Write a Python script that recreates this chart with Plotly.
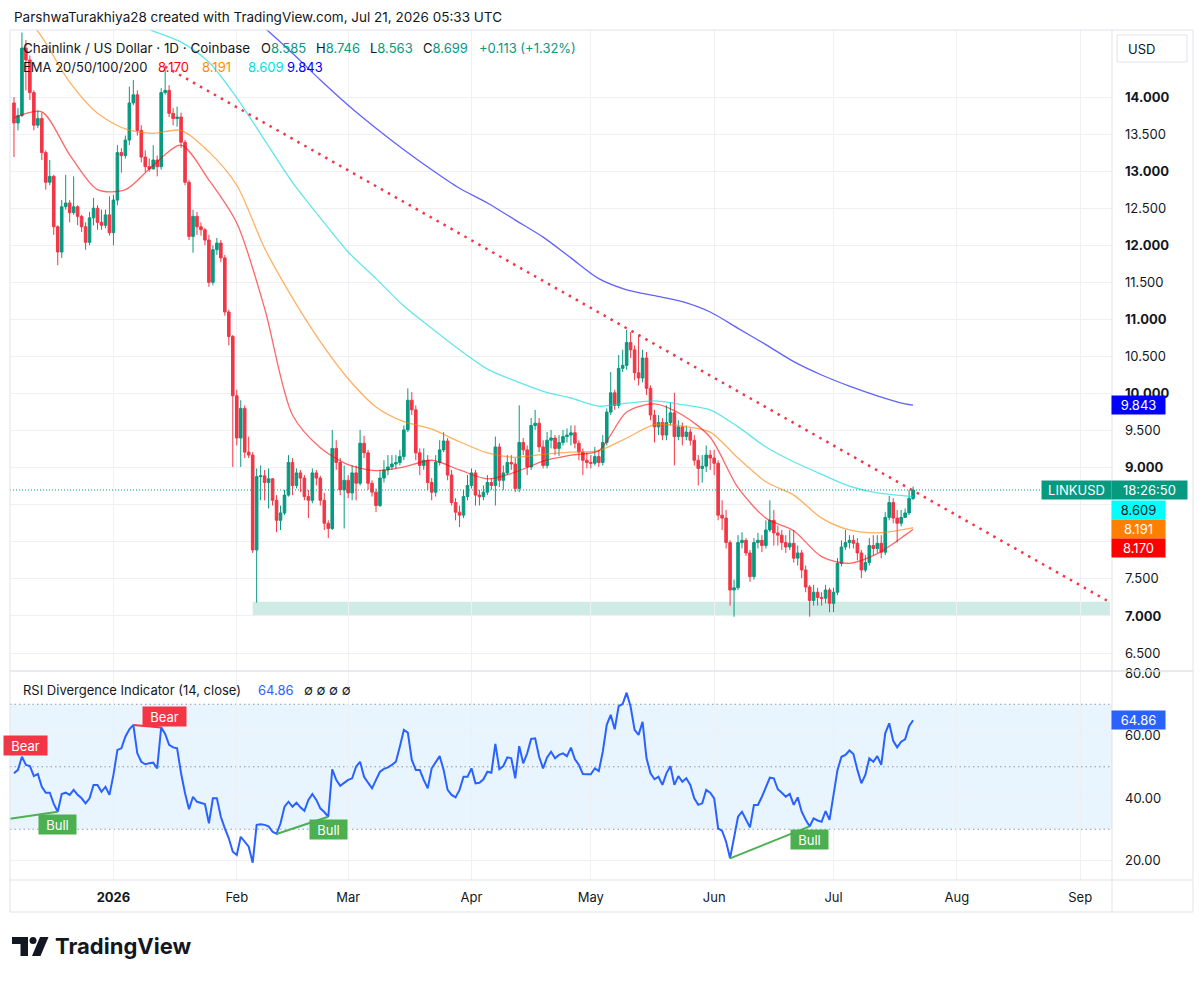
import pandas as pd
import plotly.graph_objects as go

W, H = 1204, 981
FONT = "Inter, 'Noto Sans', 'DejaVu Sans', sans-serif"
DARK = "#131722"
GREEN = "#089981"
RED = "#f23645"
GRID = "#eef0f3"
BORDER = "#e0e3eb"

# ---------------- data ----------------
start_date = "2025-12-07"
first_open = 13.92
close = [13.65, 13.75, 14.66, 14.50, 14.06, 13.62, 13.71, 13.25, 12.85, 12.93,
         12.25, 11.91, 12.52, 12.57, 12.44, 12.52, 12.39, 12.25, 12.04, 12.37,
         12.50, 12.31, 12.27, 12.41, 12.17, 12.61, 13.25, 13.21, 13.42, 13.92,
         14.03, 13.55, 13.19, 13.06, 13.03, 13.15, 13.06, 14.06, 14.09, 13.78,
         13.71, 13.73, 13.39, 12.85, 12.12, 12.39, 12.25, 12.21, 12.07, 11.50,
         11.94, 12.03, 11.83, 11.10, 10.77, 9.97, 9.40, 9.80, 9.21, 9.17,
         7.89, 8.88, 8.89, 8.80, 8.85, 8.56, 8.29, 8.39, 8.63, 9.07,
         8.76, 8.93, 8.86, 8.61, 8.56, 8.93, 8.86, 8.56, 8.25, 8.18,
         9.26, 9.07, 8.70, 8.83, 8.66, 8.93, 8.79, 9.33, 9.20, 8.79,
         8.67, 8.49, 8.86, 8.97, 9.01, 9.05, 9.07, 9.15, 9.51, 9.91,
         9.78, 9.20, 9.03, 9.10, 8.80, 8.67, 9.07, 9.24, 9.36, 8.90,
         8.53, 8.40, 8.36, 8.61, 8.76, 8.93, 8.63, 8.61, 8.67, 8.80,
         8.76, 9.28, 8.83, 8.93, 9.07, 9.05, 8.72, 9.34, 9.24, 9.01,
         9.57, 9.60, 9.28, 9.03, 9.37, 9.40, 9.26, 9.34, 9.42, 9.44,
         9.47, 9.33, 9.21, 9.10, 9.07, 9.06, 9.15, 9.07, 9.34, 9.75,
         10.01, 9.84, 10.34, 10.38, 10.69, 10.59, 10.28, 10.21, 10.48, 10.07,
         9.71, 9.55, 9.61, 9.44, 9.61, 9.74, 9.42, 9.55, 9.42, 9.48,
         9.37, 9.10, 8.99, 9.02, 9.17, 9.13, 9.06, 8.36, 8.32, 7.99,
         7.35, 7.38, 7.99, 8.02, 7.85, 7.53, 7.99, 8.02, 7.95, 8.16,
         8.29, 8.12, 8.09, 7.99, 7.93, 7.98, 7.78, 7.85, 7.62, 7.39,
         7.21, 7.32, 7.25, 7.24, 7.35, 7.17, 7.32, 7.71, 7.93, 7.99,
         8.02, 7.98, 7.85, 7.62, 7.72, 7.95, 7.91, 7.98, 7.86, 8.33,
         8.53, 8.32, 8.25, 8.33, 8.39, 8.585, 8.699]
high = [14.00, 13.85, 14.87, 14.77, 14.56, 14.09, 13.82, 13.79, 13.28, 13.15,
        12.95, 12.27, 12.61, 12.95, 12.61, 12.93, 12.54, 12.41, 12.31, 12.45,
        12.64, 12.54, 12.48, 12.48, 12.66, 12.68, 13.35, 13.31, 13.48, 14.14,
        14.23, 14.09, 13.62, 13.28, 13.17, 13.35, 13.21, 14.12, 14.41, 14.16,
        13.85, 13.87, 13.79, 13.42, 12.88, 12.48, 12.45, 12.31, 12.23, 12.14,
        12.00, 12.10, 12.07, 11.87, 11.13, 10.79, 10.05, 9.91, 9.84, 9.42,
        9.21, 8.99, 9.03, 8.97, 8.99, 8.86, 8.63, 8.49, 8.70, 9.17,
        9.13, 8.99, 8.97, 8.90, 8.70, 8.99, 8.97, 8.89, 8.66, 8.29,
        9.51, 9.37, 9.13, 9.03, 8.90, 9.03, 9.03, 9.51, 9.43, 9.24,
        8.83, 8.72, 8.97, 9.10, 9.17, 9.17, 9.17, 9.24, 9.57, 10.07,
        10.02, 9.84, 9.26, 9.26, 9.17, 8.86, 9.17, 9.37, 9.48, 9.40,
        8.97, 8.59, 8.49, 8.70, 8.90, 8.99, 8.97, 8.70, 8.76, 8.90,
        8.86, 9.42, 9.33, 9.03, 9.17, 9.17, 9.13, 9.84, 9.40, 9.30,
        9.67, 9.78, 9.67, 9.37, 9.48, 9.51, 9.44, 9.44, 9.51, 9.53,
        9.57, 9.57, 9.37, 9.26, 9.21, 9.17, 9.28, 9.24, 9.44, 9.80,
        10.29, 10.05, 10.52, 10.59, 10.86, 10.83, 10.65, 10.79, 10.59, 10.56,
        10.11, 9.78, 9.71, 9.67, 9.84, 9.88, 10.01, 9.64, 9.61, 9.57,
        9.53, 9.44, 9.17, 9.17, 9.30, 9.24, 9.24, 9.10, 8.56, 8.43,
        8.02, 7.49, 8.09, 8.13, 8.05, 7.89, 8.05, 8.12, 8.09, 8.29,
        8.56, 8.43, 8.22, 8.16, 8.09, 8.16, 8.16, 7.95, 7.89, 7.68,
        7.42, 7.42, 7.38, 7.32, 7.42, 7.38, 7.38, 7.78, 8.02, 8.16,
        8.09, 8.09, 8.05, 7.89, 7.82, 8.05, 8.09, 8.09, 8.09, 8.40,
        8.62, 8.59, 8.43, 8.43, 8.45, 8.70, 8.746]
low = [13.19, 13.55, 13.73, 14.09, 13.96, 13.55, 13.58, 13.15, 12.75, 12.81,
       12.14, 11.73, 11.83, 12.48, 12.31, 12.41, 12.27, 12.18, 11.94, 12.00,
       12.27, 12.21, 12.21, 12.23, 12.13, 12.00, 12.54, 12.98, 13.17, 13.35,
       13.89, 13.48, 13.12, 12.99, 12.99, 13.04, 12.93, 13.02, 14.03, 13.73,
       13.62, 13.60, 13.31, 12.81, 12.07, 11.90, 12.14, 12.13, 12.00, 11.44,
       11.46, 11.87, 11.77, 11.05, 10.65, 9.01, 9.30, 9.01, 9.13, 9.13,
       7.85, 7.18, 8.56, 8.56, 8.45, 8.49, 8.13, 8.16, 8.36, 8.61,
       8.63, 8.72, 8.67, 8.56, 8.32, 8.52, 8.76, 8.49, 8.16, 8.05,
       8.16, 8.97, 8.63, 8.18, 8.59, 8.56, 8.56, 8.76, 9.13, 8.70,
       8.61, 8.40, 8.47, 8.80, 8.90, 8.97, 8.99, 9.03, 9.10, 9.48,
       9.71, 9.10, 8.90, 8.97, 8.70, 8.56, 8.61, 9.03, 9.21, 8.83,
       8.49, 8.29, 8.20, 8.32, 8.56, 8.72, 8.49, 8.49, 8.56, 8.63,
       8.70, 8.49, 8.74, 8.70, 8.90, 8.97, 8.67, 8.67, 9.17, 8.90,
       8.97, 9.51, 9.21, 8.99, 8.99, 9.26, 9.17, 9.16, 9.30, 9.34,
       9.30, 9.26, 9.10, 8.90, 8.99, 8.99, 9.03, 9.01, 9.03, 9.30,
       9.71, 9.78, 9.80, 10.29, 10.32, 10.48, 10.18, 10.11, 10.15, 9.98,
       9.64, 9.34, 9.44, 9.37, 9.37, 9.57, 9.03, 9.37, 9.30, 9.37,
       9.30, 9.03, 8.76, 8.80, 8.94, 8.97, 8.90, 8.29, 8.16, 7.91,
       7.14, 6.99, 7.35, 7.91, 7.81, 7.46, 7.49, 7.91, 7.86, 7.91,
       8.13, 7.95, 7.95, 7.89, 7.85, 7.89, 7.72, 7.68, 7.51, 7.32,
       6.99, 7.14, 7.14, 7.14, 7.17, 7.05, 7.05, 7.28, 7.67, 7.89,
       7.91, 7.91, 7.75, 7.51, 7.59, 7.68, 7.82, 7.85, 7.78, 7.82,
       8.29, 8.25, 7.99, 8.21, 8.32, 8.36, 8.563]
rsi = [47.9, 49.0, 53.2, 50.6, 50.2, 47.0, 47.7, 43.6, 41.7, 41.7,
       38.1, 35.6, 41.3, 41.7, 41.0, 42.6, 41.0, 39.9, 38.3, 39.9,
       44.2, 44.2, 42.0, 43.6, 41.0, 47.4, 55.4, 55.9, 59.6, 62.0,
       63.4, 54.3, 51.6, 50.8, 51.1, 51.3, 49.5, 62.6, 60.5, 57.0,
       56.2, 55.9, 47.9, 41.5, 36.4, 40.4, 38.8, 38.5, 38.1, 31.9,
       39.9, 39.9, 34.0, 30.3, 27.1, 22.8, 21.8, 27.6, 26.0, 24.4,
       19.3, 31.4, 31.6, 31.4, 30.9, 29.2, 28.5, 31.9, 37.2, 38.8,
       37.2, 38.5, 37.0, 35.9, 39.4, 41.3, 39.4, 36.7, 35.5, 34.0,
       49.2, 45.8, 43.9, 44.9, 45.8, 46.3, 50.0, 51.6, 46.8, 44.9,
       43.1, 45.8, 48.4, 49.3, 49.8, 50.6, 51.6, 56.5, 61.8, 60.9,
       52.2, 49.0, 49.0, 45.8, 43.1, 49.5, 51.3, 53.4, 49.0, 42.6,
       41.0, 40.2, 42.6, 46.8,
       46.8, 49.5, 44.7, 44.9, 46.0, 48.4, 48.1, 57.3, 49.2, 50.2,
       53.0, 52.7, 46.3, 56.6, 51.1, 54.3, 58.9, 59.1, 53.2, 49.5,
       53.0, 54.8, 52.7, 53.8, 54.3, 53.4, 56.1, 52.4, 50.6, 47.7,
       47.6, 47.6, 49.5, 48.6, 54.8, 63.4, 66.6, 62.0, 69.4, 70.1,
       73.7, 69.2, 61.8, 60.2, 64.4, 52.7, 47.9, 46.0, 46.8, 44.2,
       47.9, 50.2, 44.2, 47.0, 45.2, 46.3, 44.2, 39.9, 37.8, 38.3,
       42.6, 41.7, 39.9, 30.3, 29.5, 26.0, 20.7, 27.1, 34.0, 35.6,
       33.2, 30.6, 37.8, 37.8, 40.4, 43.6, 46.5, 46.3, 42.8, 41.7,
       40.4, 41.3, 37.8, 40.2, 35.6, 33.0, 30.9, 33.5, 32.8, 32.4,
       35.8, 33.0, 40.4, 49.0, 53.2, 53.8, 55.2, 54.1, 49.0, 44.7,
       47.4, 52.7, 51.6, 53.4, 50.6, 60.7, 63.9, 58.3, 56.2, 58.0,
       58.8, 63.0, 64.86]

ema_dates = ["2025-12-07", "2025-12-14", "2025-12-21", "2025-12-28",
             "2026-01-04", "2026-01-11", "2026-01-18", "2026-01-25",
             "2026-02-01", "2026-02-08", "2026-02-15", "2026-02-22",
             "2026-03-01", "2026-03-08", "2026-03-15", "2026-03-22", "2026-03-29",
             "2026-04-05", "2026-04-12", "2026-04-19", "2026-04-26",
             "2026-05-03", "2026-05-10", "2026-05-17", "2026-05-24", "2026-05-31",
             "2026-06-07", "2026-06-14", "2026-06-21", "2026-06-28",
             "2026-07-05", "2026-07-12", "2026-07-19", "2026-07-21"]
ema20 = [13.72, 13.80, 13.22, 12.75, 12.75, 13.08, 13.35, 12.88, 12.30, 11.15,
         9.71, 9.27, 9.04, 8.96, 9.01, 9.10, 8.97, 8.85, 8.94, 9.09,
         9.17, 9.23, 9.75, 9.86, 9.71, 9.41, 8.73, 8.32, 8.15, 7.80,
         7.71, 7.84, 8.09, 8.170]
ema50 = [15.31, 14.81, 14.20, 13.78, 13.57, 13.51, 13.55, 13.26, 12.81, 11.96,
         11.29, 10.70, 10.20, 9.82, 9.62, 9.52, 9.35, 9.20, 9.14, 9.18,
         9.21, 9.23, 9.40, 9.58, 9.56, 9.48, 9.13, 8.81, 8.63, 8.32,
         8.16, 8.12, 8.17, 8.191]
ema100 = [15.65, 15.50, 15.35, 15.19, 15.04, 14.89, 14.74, 14.47, 13.99, 13.42,
          12.85, 12.37, 11.91, 11.55, 11.18, 10.88, 10.59, 10.33, 10.17, 10.03,
          9.94, 9.83, 9.87, 9.90, 9.85, 9.78, 9.55, 9.28, 9.08, 8.91,
          8.75, 8.66, 8.62, 8.609]
ema200 = [16.31, 16.20, 16.09, 15.98, 15.85, 15.71, 15.58, 15.42, 15.20, 14.93,
          14.59, 14.23, 13.89, 13.58, 13.29, 13.02, 12.77, 12.57, 12.34, 12.11,
          11.83, 11.55, 11.40, 11.32, 11.24, 11.10, 10.88, 10.66, 10.43, 10.25,
          10.10, 9.97, 9.86, 9.843]

trend_dates = ["2026-01-14", "2026-09-08"]
trend_prices = [14.41, 7.20]
zone_dates = ["2026-02-05", "2026-09-08 12:00"]
zone_prices = [7.00, 7.19]

month_ticks = ["2026-01-01", "2026-02-01", "2026-03-01", "2026-04-01", "2026-05-01",
               "2026-06-01", "2026-07-01", "2026-08-01", "2026-09-01"]
month_labels = ["2026", "Feb", "Mar", "Apr", "May", "Jun", "Jul", "Aug", "Sep"]
price_ticks = [6.5, 7.0, 7.5, 8.0, 8.5, 9.0, 9.5, 10.0, 10.5, 11.0, 11.5, 12.0, 12.5,
               13.0, 13.5, 14.0]
price_labels = ["6.500", "7.000", "7.500", "", "", "9.000", "9.500", "10.000",
                "10.500", "11.000", "11.500", "12.000", "12.500", "13.000", "13.500", "14.000"]
rsi_ticks = [20, 40, 60, 80]
rsi_labels = ["20.00", "40.00", "60.00", "80.00"]

offchart_pivot = ("2025-11-21", 30.5)
bull_pairs = [(None, 11), (66, 79), (180, 200)]
bear_pairs = [(30, 37)]
bear_single = [2]

# ---------------- derived ----------------
dates = pd.date_range(start_date, periods=len(close), freq="D")
opens = [first_open] + close[:-1]
highs = [max(h, o, c) for h, o, c in zip(high, opens, close)]
lows = [min(l, o, c) for l, o, c in zip(low, opens, close)]


def px(x):
    return x / W


def py(y):
    return 1 - y / H


fig = go.Figure()

fig.add_trace(go.Candlestick(
    x=dates, open=opens, high=highs, low=lows, close=close,
    increasing=dict(line=dict(color=GREEN, width=1), fillcolor=GREEN),
    decreasing=dict(line=dict(color=RED, width=1), fillcolor=RED),
    whiskerwidth=0, hoverinfo="skip", xaxis="x", yaxis="y"))

ema_styles = [(ema200, "rgba(0,0,255,0.62)"), (ema100, "rgba(0,215,225,0.62)"),
              (ema50, "rgba(255,128,0,0.62)"), (ema20, "rgba(255,0,0,0.6)")]
for vals, col in ema_styles:
    fig.add_trace(go.Scatter(x=ema_dates, y=vals, mode="lines",
                             line=dict(color=col, width=1.3, shape="spline", smoothing=0.8),
                             hoverinfo="skip", xaxis="x", yaxis="y"))

fig.add_trace(go.Scatter(x=trend_dates, y=trend_prices, mode="lines",
                         line=dict(color=RED, width=2.5, dash="2.5px,5.5px"),
                         hoverinfo="skip", xaxis="x", yaxis="y"))

# RSI pane
fig.add_trace(go.Scatter(x=dates, y=rsi, mode="lines", line=dict(color="#2962ff", width=2),
                         hoverinfo="skip", xaxis="x2", yaxis="y2"))

annotations = []


def div_label(xd, yv, text, bg, yshift, xshift=0, w=33):
    return dict(x=xd, y=yv, xref="x2", yref="y2", text=text, showarrow=False,
                font=dict(color="white", size=13, family=FONT), bgcolor=bg,
                borderpad=2, width=w, height=15, yshift=yshift, xshift=xshift)


for a, b in bull_pairs:
    if a is None:
        xa, ya = offchart_pivot
    else:
        xa, ya = dates[a], rsi[a]
    fig.add_trace(go.Scatter(x=[xa, dates[b]], y=[ya, rsi[b]], mode="lines",
                             line=dict(color="#4caf50", width=2), hoverinfo="skip",
                             xaxis="x2", yaxis="y2"))
    annotations.append(div_label(dates[b], rsi[b], "Bull", "#4caf50", -13))
for a, b in bear_pairs:
    fig.add_trace(go.Scatter(x=[dates[a], dates[b]], y=[rsi[a], rsi[b]], mode="lines",
                             line=dict(color=RED, width=2), hoverinfo="skip",
                             xaxis="x2", yaxis="y2"))
    annotations.append(div_label(dates[b], rsi[b], "Bear", RED, 11, 3, 39))
for a in bear_single:
    annotations.append(div_label(dates[a], rsi[a], "Bear", RED, 11, 4, 39))


def text_at(x, y, text, color=DARK, size=13, bold=False, anchor="left"):
    t = f"<b>{text}</b>" if bold else text
    return dict(x=px(x), y=py(y), xref="paper", yref="paper", text=t, showarrow=False,
                xanchor=anchor, yanchor="middle", font=dict(color=color, size=size, family=FONT))


def box_at(xc, yc, text, bg, fg, w):
    return dict(x=px(xc), y=py(yc), xref="paper", yref="paper", text=text, showarrow=False,
                xanchor="center", yanchor="middle", bgcolor=bg, borderpad=2, width=w - 4,
                height=14, font=dict(color=fg, size=13, family=FONT))


o, h, l, c = opens[-1], highs[-1], lows[-1], close[-1]
annotations += [
    text_at(12, 17, "ParshwaTurakhiya28 created with TradingView.com, Jul 21, 2026 05:33 UTC", size=13.5),
    text_at(21, 48, "Chainlink / US Dollar · 1D · Coinbase", size=13.4),
    text_at(259, 48, f"O<span style='color:{GREEN}'>{o:.3f}</span>"),
    text_at(314, 48, f"H<span style='color:{GREEN}'>{h:.3f}</span>"),
    text_at(368, 48, f"L<span style='color:{GREEN}'>{l:.3f}</span>"),
    text_at(421, 48, f"C<span style='color:{GREEN}'>{c:.3f}</span>"),
    text_at(477, 48, "+0.113 (+1.32%)", color=GREEN),
    text_at(21, 67, "EMA 20/50/100/200"),
    text_at(156, 67, f"{ema20[-1]:.3f}", color="#ff0000"),
    text_at(200, 67, f"{ema50[-1]:.3f}", color="#ff8c00"),
    text_at(246, 67, f"{ema100[-1]:.3f}", color="#00e0e8"),
    text_at(285, 67, f"{ema200[-1]:.3f}", color="#0000ff"),
    text_at(21, 690, "RSI Divergence Indicator (14, close)"),
    text_at(256, 690, f"{rsi[-1]:.2f}", color="#2962ff"),
    text_at(302, 690, "∅ ∅ ∅ ∅"),
    text_at(1126, 49, "USD"),
    box_at(1138.5, 405, f"{ema200[-1]:.3f}", "#0000ff", "white", 53),
    box_at(1076.5, 490, "LINKUSD", GREEN, "white", 69),
    box_at(1149.5, 490, "18:26:50", GREEN, "white", 75),
    box_at(1138.5, 510, f"{ema100[-1]:.3f}", "#00ffff", DARK, 53),
    box_at(1138.5, 529, f"{ema50[-1]:.3f}", "#ff8000", "white", 53),
    box_at(1138.5, 548, f"{ema20[-1]:.3f}", "#ff0000", "white", 53),
    box_at(1138.5, 720, f"{rsi[-1]:.2f}", "#2962ff", "white", 53),
    text_at(53, 946, "TradingView", size=22, bold=True),
]


def pline(x0, y0, x1, y1, color=BORDER, width=1):
    return dict(type="line", xref="paper", yref="paper", x0=px(x0), y0=py(y0), x1=px(x1),
                y1=py(y1), line=dict(color=color, width=width))


def prect(x0, y0, x1, y1, fill=None, color=BORDER, width=1):
    d = dict(type="rect", xref="paper", yref="paper", x0=px(x0), x1=px(x1), y0=py(y1),
             y1=py(y0), line=dict(color=color, width=width))
    if fill:
        d["fillcolor"] = fill
    return d


shapes = [
    dict(type="rect", xref="x", yref="y", x0=zone_dates[0], x1=zone_dates[1],
         y0=zone_prices[0], y1=zone_prices[1], fillcolor="rgba(8,153,129,0.2)",
         line=dict(width=0), layer="below"),
    dict(type="rect", xref="x2", yref="y2", x0="2025-12-06", x1="2026-09-09", y0=30, y1=70,
         fillcolor="rgba(33,150,243,0.1)", line=dict(width=0), layer="below"),
    dict(type="line", xref="paper", yref="y", x0=px(10), x1=px(1042), y0=c, y1=c,
         line=dict(color=GREEN, width=1, dash="1px,2px")),
]
for lv in (70, 50, 30):
    shapes.append(dict(type="line", xref="x2", yref="y2", x0="2025-12-06", x1="2026-09-09",
                       y0=lv, y1=lv, line=dict(color="#9598a1", width=1, dash="1.5px,3px"),
                       layer="below"))
shapes += [
    prect(10, 30, 1193, 912),
    pline(10, 671, 1193, 671, BORDER, 1.5),
    pline(10, 880, 1193, 880),
    pline(1112, 30, 1112, 912),
    prect(1117, 35, 1187, 62),
    # TradingView logo
    prect(12, 937, 28, 944, DARK, DARK, 0),
    prect(20.5, 937, 28, 956, DARK, DARK, 0),
    dict(type="circle", xref="paper", yref="paper", x0=px(29.5), x1=px(36.5), y0=py(944),
         y1=py(937), fillcolor=DARK, line=dict(width=0)),
    dict(type="path", xref="paper", yref="paper",
         path=f"M {px(40)} {py(937)} L {px(48.5)} {py(937)} L {px(40.5)} {py(956)} L {px(32)} {py(956)} Z",
         fillcolor=DARK, line=dict(width=0)),
]

x_range = ["2025-12-06", "2026-09-09"]
xdom = [px(10), px(1112)]
price_text = [f"<b>{t}</b>" if (v == int(v) and t) else t for v, t in zip(price_ticks, price_labels)]
month_text = [f"<b>{t}</b>" if i == 0 else t for i, t in enumerate(month_labels)]

fig.update_layout(
    template="none",
    width=W, height=H, margin=dict(l=0, r=0, t=0, b=0, pad=0, autoexpand=False),
    paper_bgcolor="white", plot_bgcolor="white", showlegend=False,
    font=dict(family=FONT, color=DARK, size=13),
    boxgap=0.35, boxgroupgap=0,
    xaxis=dict(domain=xdom, range=x_range, type="date", tickvals=month_ticks,
               showticklabels=False, showgrid=True, gridcolor=GRID, gridwidth=1, zeroline=False,
               rangeslider=dict(visible=False), anchor="y", ticks="", automargin=False,
               showline=False),
    yaxis=dict(domain=[py(670), py(30)], range=[6.271, 14.904], side="right",
               tickvals=price_ticks, ticktext=price_text, showgrid=True, gridcolor=GRID,
               gridwidth=1, zeroline=False, anchor="x", ticks="", ticklabelstandoff=12,
               tickfont=dict(size=13, color=DARK), automargin=False, showline=False),
    xaxis2=dict(domain=xdom, range=x_range, type="date", tickvals=month_ticks,
                ticktext=month_text, showgrid=True, gridcolor=GRID, gridwidth=1, zeroline=False,
                anchor="y2", ticks="", ticklabelstandoff=8, tickfont=dict(size=13, color=DARK),
                automargin=False, showline=False),
    yaxis2=dict(domain=[py(880), py(672)], range=[13.76, 80.32], side="right",
                tickvals=rsi_ticks, ticktext=rsi_labels, showgrid=True, gridcolor=GRID,
                gridwidth=1, zeroline=False, anchor="x2", ticks="", ticklabelstandoff=12,
                tickfont=dict(size=13, color=DARK), automargin=False, showline=False),
    annotations=annotations, shapes=shapes,
)

fig.write_html("out.html")
